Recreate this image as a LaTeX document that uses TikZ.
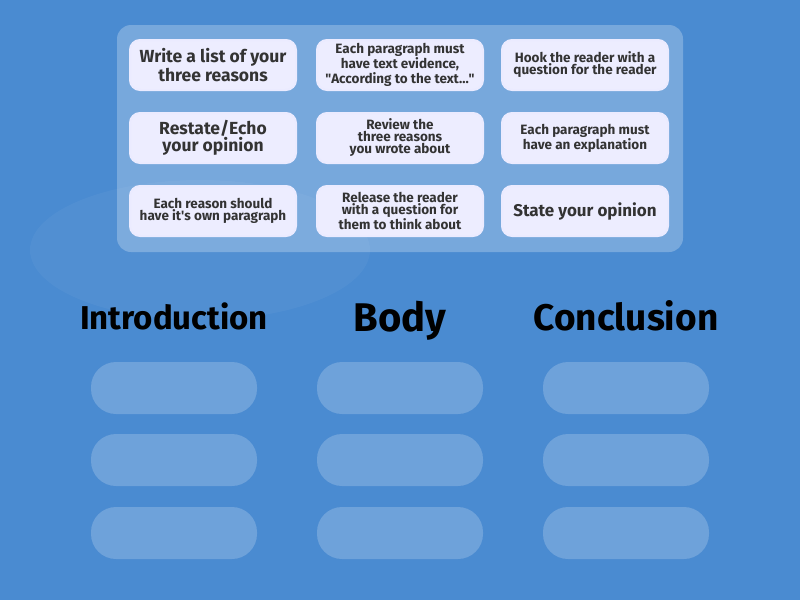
\documentclass[tikz,border=0pt]{standalone}
\usepackage{fontspec}
\setmainfont{Fira Sans}
\begin{document}
\begin{tikzpicture}[x=1pt,y=-1pt,
  tile/.style={draw=white!80!blue!40,line width=2pt,fill=white!93!blue,rounded corners=10pt,minimum width=166pt,minimum height=50pt,align=center,font=\bfseries,text=black!80,inner sep=1pt},
  slot/.style={fill=white!20!bgblue,rounded corners=25pt,minimum width=166pt,minimum height=52pt},
  head/.style={text=black,anchor=base}]
\definecolor{bgblue}{HTML}{4A8BD1}
\useasboundingbox (0,0) rectangle (800,600);
\fill[bgblue] (0,0) rectangle (800,600);
\fill[white,opacity=0.04] (200,250) ellipse (170 and 70);
\fill[white,opacity=0.25,rounded corners=14pt] (117,25) rectangle (683,252);
\def\bigf{\fontsize{17.5}{19.5}\selectfont}
\def\smf{\fontsize{13.5}{15.5}\selectfont}
\node[tile] (t11) at (213,65) {\bigf Write a list of your\\\bigf three reasons};
\node[tile] (t12) at (400,65) {\smf Each paragraph must\\\smf have text evidence,\\\smf \textquotedbl According to the text...\textquotedbl};
\node[tile] (t13) at (585,65) {\smf Hook the reader with a\\\smf question for the reader};
\node[tile] (t21) at (213,138) {\bigf Restate/Echo\\\bigf your opinion};
\node[tile] (t22) at (400,138) {\smf Review the\\\smf three reasons\\\smf you wrote about};
\node[tile] (t23) at (585,138) {\smf Each paragraph must\\\smf have an explanation};
\node[tile] (t31) at (213,211) {\smf Each reason should\\\smf have it\textquotesingle s own paragraph};
\node[tile] (t32) at (400,211) {\smf Release the reader\\\smf with a question for\\\smf them to think about};
\node[tile] (t33) at (585,211) {\fontsize{17}{19}\selectfont State your opinion};
\node[head,font=\fontsize{33}{36}\selectfont\bfseries] (h1) at (174,329) {Introduction};
\node[head,font=\fontsize{40}{44}\selectfont\bfseries] (h2) at (400,331) {Body};
\node[head,font=\fontsize{37}{40}\selectfont\bfseries] (h3) at (626,330) {Conclusion};
\foreach \c/\x in {1/174,2/400,3/626}{
  \node[slot] (s\c a) at (\x,388) {};
  \node[slot] (s\c b) at (\x,460) {};
  \node[slot] (s\c c) at (\x,533) {};
}
\end{tikzpicture}
\end{document}
